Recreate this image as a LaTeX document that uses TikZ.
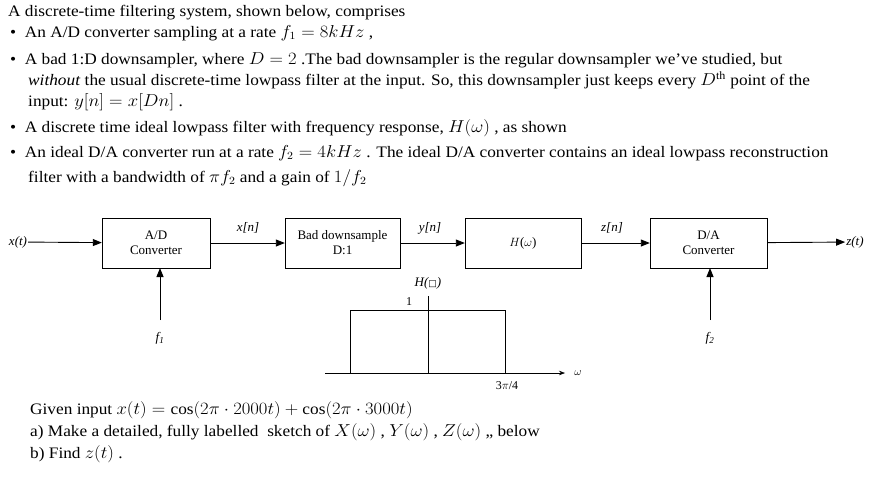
\documentclass[tikz,border=0pt]{standalone}
\usepackage{fontspec}
\setmainfont{Liberation Serif}
\newfontfamily\dvfont{DejaVu Sans}
\usetikzlibrary{arrows.meta}
\newcommand{\wide}[1]{\scalebox{1.08}[1]{#1}}
\begin{document}
\begin{tikzpicture}[x=1pt,y=-1pt,
  txt/.style={anchor=west,inner sep=0pt,font=\fontsize{16}{18}\selectfont},
  blk/.style={draw,minimum width=108pt,minimum height=50pt,align=center,font=\fontsize{13}{15}\selectfont,inner sep=0pt},
  lbl/.style={font=\fontsize{13}{15}\selectfont\itshape,inner sep=1pt},
  sig/.style={-{Triangle[length=9pt,width=7pt]},line width=0.9pt}]
\useasboundingbox (0,0) rectangle (874,483);
\node[txt] (t1) at (8,13) {\wide{A discrete-time filtering system, shown below, comprises}};
\node[txt] (t2) at (10,33) {\wide{\textbullet\ \ An A/D converter sampling at a rate $f_1=8kHz$ ,}};
\node[txt] (t3) at (10,60) {\wide{\textbullet\ \ A bad 1:D downsampler, where $D=2$ .The bad downsampler is the regular downsampler we've studied, but}};
\node[txt] (t4) at (28,80) {\wide{\textit{without} the usual discrete-time lowpass filter at the input. So, this downsampler just keeps every $D^{\mathrm{th}}$ point of the}};
\node[txt] (t5) at (28,102) {\wide{input: $y[n]=x[Dn]$ .}};
\node[txt] (t6) at (10,128) {\wide{\textbullet\ \ A discrete time ideal lowpass filter with frequency response, $H(\omega)$ , as shown}};
\node[txt] (t7) at (10,153) {\wide{\textbullet\ \ An ideal D/A converter run at a rate $f_2=4kHz$ . The ideal D/A converter contains an ideal lowpass reconstruction}};
\node[txt] (t8) at (28,178) {\wide{filter with a bandwidth of $\pi f_2$ and a gain of $1/f_2$}};

\node[blk] (ad) at (156,243) {A/D\\Converter};
\node[blk,minimum width=115pt] (ds) at (342.5,243) {Bad downsample\\D:1};
\node[blk,minimum width=116pt] (h) at (523,243) {$H$($\omega$)};
\node[blk,minimum width=117pt] (da) at (708.5,243) {D/A\\Converter};
\node[lbl] (xt) at (18,242) {x(t)};
\node[lbl] (zt) at (855,242) {z(t)};
\draw[sig] (xt) -- (ad);
\draw[sig] (ad) -- (ds);
\draw[sig] (ds) -- (h);
\draw[sig] (h) -- (da);
\draw[sig] (da) -- (zt);
\node[lbl] (xn) at (248,228) {x[n]};
\node[lbl] (yn) at (430,228) {y[n]};
\node[lbl] (zn) at (612,228) {z[n]};
\node[lbl] (f1) at (160,338) {f\textsubscript{1}};
\node[lbl] (f2) at (710,338) {f\textsubscript{2}};
\coordinate (f1a) at (160,320);
\coordinate (f2a) at (710,320);
\draw[sig] (f1a) -- (160,268);
\draw[sig] (f2a) -- (710,268);

\coordinate (ax0) at (325,373);
\coordinate (ax1) at (565,373);
\draw[-{Stealth[length=6pt]},line width=0.6pt] (ax0) -- (ax1);
\node[font=\fontsize{11}{12}\selectfont] (om) at (578,373) {$\omega$};
\draw[line width=0.6pt] (350,373) -- (350,310) -- (505,310) -- (505,373);
\draw[line width=0.6pt] (428,296) -- (428,373);
\node[lbl] (hl) at (428,283) {H({\upshape\dvfont\fontsize{9}{9}\selectfont □})};
\node[font=\fontsize{12}{12}\selectfont] (one) at (409,302) {1};
\node[font=\fontsize{12}{12}\selectfont] (tp) at (507,386) {3$\pi$/4};

\node[txt] (b1) at (30,410) {\wide{Given input $x(t)=\cos(2\pi\cdot 2000t)+\cos(2\pi\cdot 3000t)$}};
\node[txt] (b2) at (30,432) {\wide{a) Make a detailed, fully labelled\ \ sketch of $X(\omega)$ , $Y(\omega)$ , $Z(\omega)$ ,, below}};
\node[txt] (b3) at (30,454) {\wide{b) Find $z(t)$ .}};
\end{tikzpicture}
\end{document}
